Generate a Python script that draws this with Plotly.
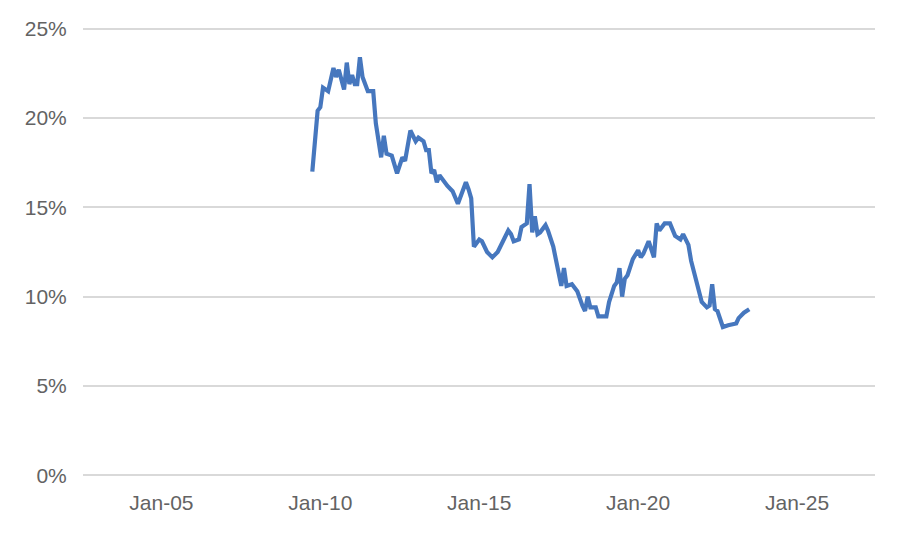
import plotly.graph_objects as go

# readings, roughly monthly (date, share in %)
dates = [
    "2009-10", "2009-12", "2010-01", "2010-02", "2010-04", "2010-06", "2010-07", "2010-08",
    "2010-10", "2010-11", "2010-12", "2011-01", "2011-02", "2011-03", "2011-04", "2011-05",
    "2011-07", "2011-09", "2011-10", "2011-11", "2011-12", "2012-01", "2012-02", "2012-04",
    "2012-06", "2012-08", "2012-09", "2012-11", "2013-01", "2013-02", "2013-04", "2013-05",
    "2013-06", "2013-07", "2013-08", "2013-09", "2013-10", "2014-01", "2014-02", "2014-03",
    "2014-05", "2014-08", "2014-09", "2014-10", "2014-11", "2015-01", "2015-02", "2015-04",
    "2015-06", "2015-08", "2015-10", "2015-12", "2016-01", "2016-02", "2016-04", "2016-05",
    "2016-07", "2016-08", "2016-09", "2016-10", "2016-11", "2016-12", "2017-02", "2017-03",
    "2017-05", "2017-07", "2017-08", "2017-09", "2017-10", "2017-12", "2018-02", "2018-04",
    "2018-05", "2018-06", "2018-07", "2018-09", "2018-10", "2019-01", "2019-02", "2019-04",
    "2019-05", "2019-06", "2019-07", "2019-08", "2019-09", "2019-11", "2020-01", "2020-02",
    "2020-03", "2020-05", "2020-07", "2020-08", "2020-09", "2020-11", "2021-01", "2021-03",
    "2021-05", "2021-06", "2021-08", "2021-09", "2021-11", "2022-01", "2022-03", "2022-04",
    "2022-05", "2022-06", "2022-07", "2022-09", "2022-11", "2023-02", "2023-03", "2023-05",
    "2023-07",
]
share = [
    17.0, 20.4, 20.6, 21.7, 21.5, 22.8, 22.3, 22.7,
    21.6, 23.1, 21.9, 22.4, 21.9, 21.9, 23.4, 22.3,
    21.5, 21.5, 19.7, 18.8, 17.8, 19.0, 18.0, 17.9,
    16.9, 17.8, 17.6, 19.3, 18.7, 18.9, 18.7, 18.2,
    18.2, 16.9, 17.1, 16.4, 16.8, 16.2, 16.0, 15.9,
    15.2, 16.4, 16.0, 15.5, 12.8, 13.2, 13.1, 12.5,
    12.2, 12.5, 13.1, 13.7, 13.5, 13.1, 13.2, 13.9,
    14.1, 16.3, 13.6, 14.5, 13.5, 13.6, 14.0, 13.7,
    12.8, 11.4, 10.6, 11.6, 10.6, 10.7, 10.3, 9.5,
    9.2, 10.0, 9.4, 9.4, 8.9, 8.9, 9.7, 10.6,
    10.8, 11.6, 10.0, 11.0, 11.2, 12.1, 12.6, 12.2,
    12.4, 13.1, 12.2, 14.1, 13.7, 14.1, 14.1, 13.4,
    13.2, 13.5, 12.9, 12.0, 10.8, 9.7, 9.4, 9.5,
    10.7, 9.3, 9.2, 8.3, 8.4, 8.5, 8.8, 9.1,
    9.3,
]

x_ticks = ["2005-01-01", "2010-01-01", "2015-01-01", "2020-01-01", "2025-01-01"]
y_ticks = [0, 5, 10, 15, 20, 25]
y_labels = ["0%", "5%", "10%", "15%", "20%", "25%"]

fig = go.Figure()
fig.add_trace(go.Scatter(
    x=dates, y=share, mode="lines",
    line=dict(color="#4677BE", width=4.2),
    showlegend=False,
))

fig.update_layout(
    width=900, height=540,
    margin=dict(l=75, r=33, t=9, b=70),
    paper_bgcolor="white", plot_bgcolor="white",
    font=dict(family="Liberation Sans, Arial, sans-serif", size=21, color="#636363"),
)
fig.update_xaxes(
    type="date", range=["2002-07-15", "2027-06-15"],
    tickvals=x_ticks, tickformat="%b-%y",
    showgrid=False, zeroline=False, showline=False,
    ticks="outside", ticklen=6, tickcolor="white",
)
fig.update_yaxes(
    range=[-0.15, 25.15], tickvals=y_ticks, ticktext=y_labels,
    showgrid=True, gridcolor="#D9D9D9", gridwidth=1.5,
    zeroline=False, showline=False, ticks="outside", ticklen=11, tickcolor="white",
)

fig.write_html("out.html")
